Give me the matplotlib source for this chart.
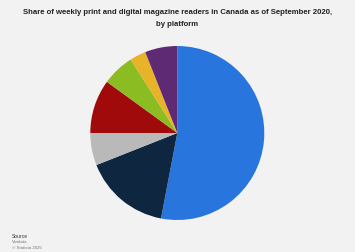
import matplotlib
matplotlib.use("Agg")
import matplotlib.pyplot as plt

platforms = ["Print", "Digital", "Other 1", "Other 2", "Other 3", "Other 4", "Other 5"]
shares = [53, 16, 6, 10, 6, 3, 6]
colors = ["#2876dd", "#0f2640", "#b9b9b9", "#a10a0a", "#8bbc21", "#e8b328", "#5e2a73"]

W, H = 355, 253
fig = plt.figure(figsize=(W / 100, H / 100), dpi=100)
fig.patch.set_facecolor("#f2f2f2")

cx, cy, r = 177.3, 134, 87
ax = fig.add_axes([(cx - r) / W, (H - cy - r) / H, 2 * r / W, 2 * r / H])
ax.set_facecolor("#f2f2f2")
ax.pie(shares, colors=colors, startangle=90, counterclock=False, radius=1,
       wedgeprops=dict(linewidth=0))
ax.set_xlim(-1, 1)
ax.set_ylim(-1, 1)
ax.set_aspect("equal")
ax.axis("off")

fig.text(0.5, 1 - 13 / H, "Share of weekly print and digital magazine readers in Canada as of September 2020,",
         ha="center", va="center", fontsize=5.6, fontweight="bold", family="Liberation Sans", color="#222222")
fig.text(0.5, 1 - 24.5 / H, "by platform",
         ha="center", va="center", fontsize=5.6, fontweight="bold", family="Liberation Sans", color="#222222")

fig.text(12 / W, 1 - 236 / H, "Source", ha="left", va="center", fontsize=3.6, family="Liberation Sans", color="#333333")
fig.text(12 / W, 1 - 242 / H, "Vividata", ha="left", va="center", fontsize=3.2, family="Liberation Sans", color="#777777")
fig.text(12 / W, 1 - 248 / H, "© Statista 2025", ha="left", va="center", fontsize=3.2, family="Liberation Sans", color="#777777")

fig.savefig("out.png", dpi=100, facecolor=fig.get_facecolor())
